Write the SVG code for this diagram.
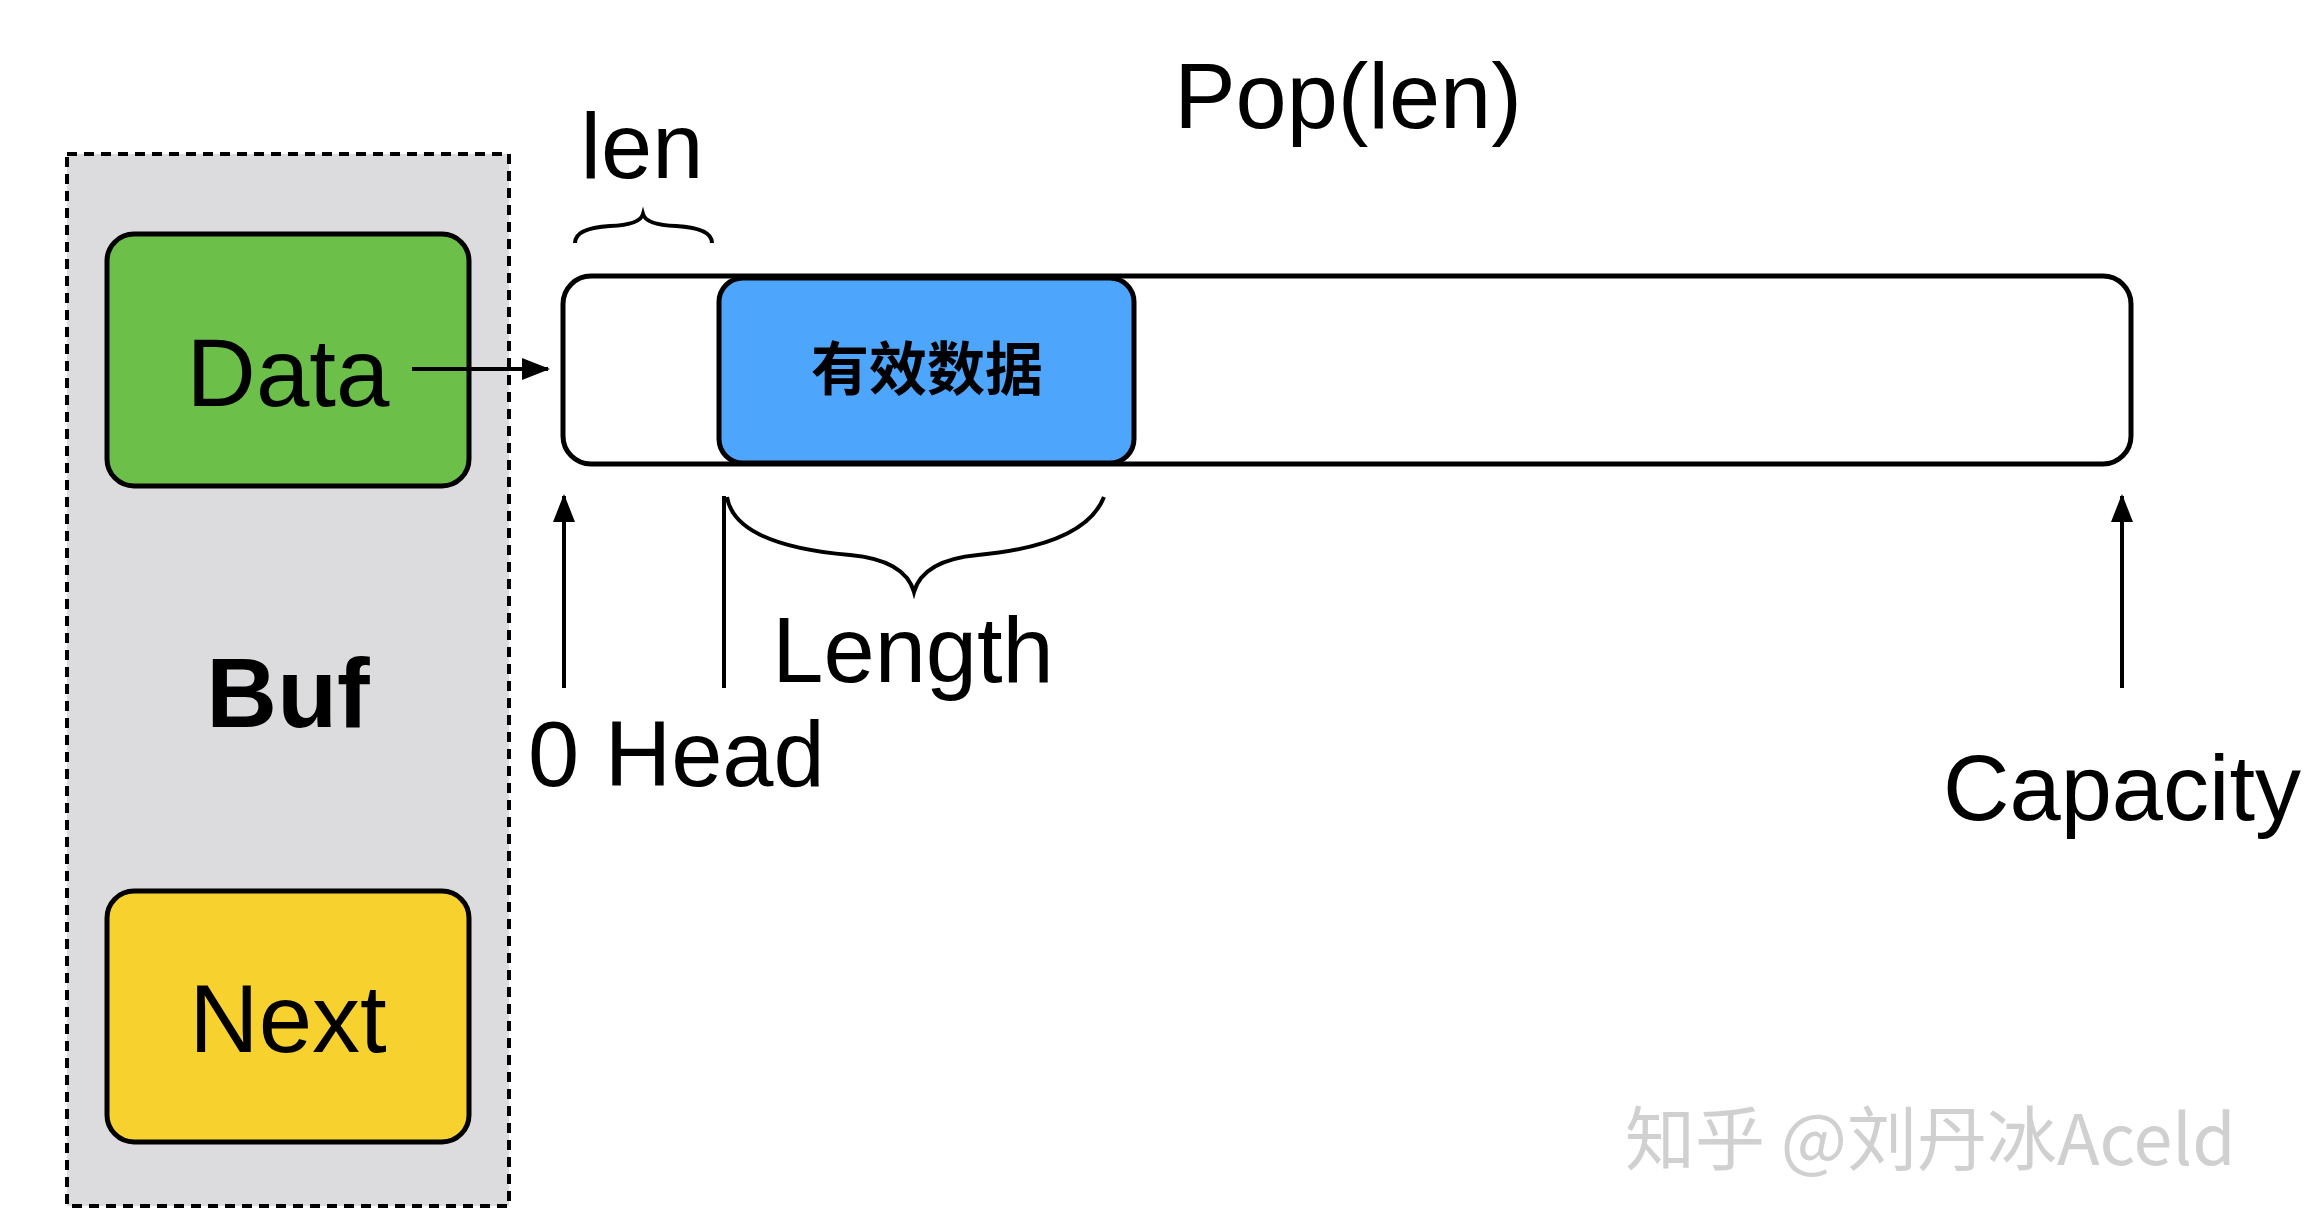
<svg xmlns="http://www.w3.org/2000/svg" width="2316" height="1228" viewBox="0 0 2316 1228">
<defs>
<style>
.t{font-family:"Liberation Sans","Noto Sans",sans-serif;fill:#000}
.ln{stroke:#000;stroke-width:4;fill:none}
</style>
<marker id="ab" markerWidth="28" markerHeight="26" refX="26" refY="13" orient="auto" markerUnits="userSpaceOnUse" viewBox="0 0 28 26"><path d="M0,2 L28,13 L0,24 z" fill="#000"/></marker>
</defs>
<rect width="2316" height="1228" fill="#fff"/>
<g id="buf">
<rect x="67" y="154" width="442" height="1052" fill="#dcdcde" stroke="#000" stroke-width="4" stroke-dasharray="10,7"/>
<text class="t" x="288" y="727" font-size="98" font-weight="bold" text-anchor="middle">Buf</text>
</g>
<g id="data">
<rect x="107" y="234" width="362" height="252" rx="27" fill="#6cc04a" stroke="#000" stroke-width="5"/>
<text class="t" x="288" y="406" font-size="96" text-anchor="middle">Data</text>
</g>
<g id="next">
<rect x="107" y="891" width="362" height="251" rx="27" fill="#f7d12e" stroke="#000" stroke-width="5"/>
<text class="t" x="288" y="1052" font-size="96" text-anchor="middle">Next</text>
</g>
<g id="bar">
<rect x="563" y="276" width="1568" height="188" rx="28" fill="#fff" stroke="#000" stroke-width="5"/>
</g>
<g id="valid">
<rect x="719" y="278" width="415" height="185" rx="24" fill="#4ea6fc" stroke="#000" stroke-width="5"/>
<text class="t" x="927" y="390" font-size="58" font-weight="bold" text-anchor="middle" style="font-family:'Noto Sans CJK SC',sans-serif">有效数据</text>
</g>
<g id="labels">
<text class="t" x="1348" y="128" font-size="92" text-anchor="middle">Pop(len)</text>
<text class="t" x="642" y="178" font-size="92" text-anchor="middle">len</text>
<text class="t" x="913" y="682" font-size="92" text-anchor="middle">Length</text>
<text class="t" x="528" y="786" font-size="92">0 Head</text>
<text class="t" x="2122" y="820" font-size="92" text-anchor="middle">Capacity</text>
<text x="1625" y="1165" font-size="70" fill="#d0d0d0" style="font-family:'Noto Sans CJK SC','Liberation Sans',sans-serif">知乎 @刘丹冰Aceld</text>
</g>
<g id="connectors">
<line class="ln" x1="412" y1="369" x2="548" y2="369" marker-end="url(#ab)"/>
<line class="ln" x1="564" y1="688" x2="564" y2="496" marker-end="url(#ab)"/>
<line class="ln" x1="724" y1="688" x2="724" y2="496"/>
<line class="ln" x1="2122" y1="688" x2="2122" y2="496" marker-end="url(#ab)"/>
<path class="ln" d="M575,243 Q575,228 610,226 Q640,225 643,214 Q646,225 676,226 Q712,228 712,243"/>
<path class="ln" d="M727,497 Q735,545 850,555 Q905,560 914,592 Q923,560 978,555 Q1085,545 1104,497"/>
</g>
</svg>
